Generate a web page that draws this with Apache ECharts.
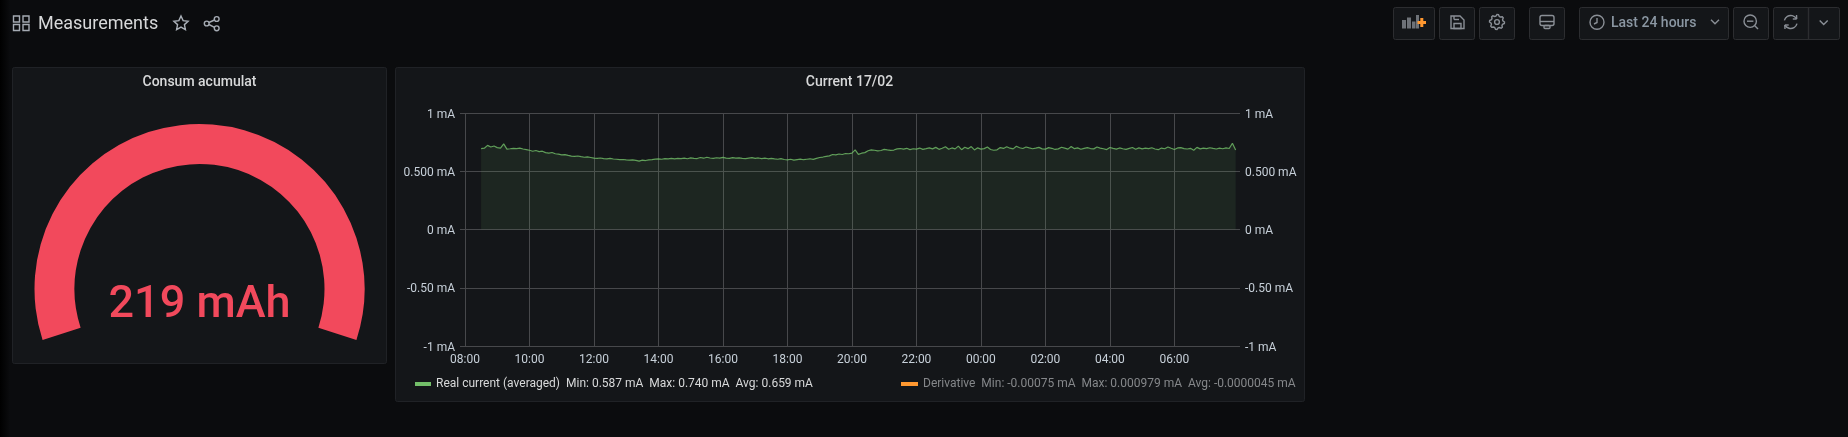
<!DOCTYPE html>
<html>
<head>
<meta charset="utf-8">
<title>Measurements</title>
<style>
  html, body { margin: 0; padding: 0; background: #0b0c0e; }
  #chart { width: 1848px; height: 437px; }
</style>
<script src="https://cdn.jsdelivr.net/npm/echarts@6/dist/echarts.min.js"></script>
</head>
<body>
<div id="chart"></div>
<script>
// Gauge
var gaugeName = 'Consum acumulat';
var gaugeValue = 219;

// Graph: one reading every 6 minutes, first one at 08:30
var graphName = 'Current 17/02';
var realName = 'Real current (averaged)';
var derivName = 'Derivative';
var realStats = 'Min: 0.587 mA  Max: 0.740 mA  Avg: 0.659 mA';
var derivStats = 'Min: -0.00075 mA  Max: 0.000979 mA  Avg: -0.0000045 mA';
var realCurrent = [
  .695,.698,.722,.708,.717,.703,.699,.735,.690,.693,.697,.695,.698,.691,.686,.680,.672,.678,.668,.672,
  .660,.655,.661,.650,.647,.640,.643,.636,.630,.628,.631,.625,.620,.624,.618,.612,.610,.614,.608,.606,
  .611,.605,.603,.600,.601,.598,.596,.598,.594,.587,.596,.592,.597,.600,.604,.606,.603,.608,.606,.610,
  .606,.611,.608,.613,.607,.615,.610,.609,.618,.612,.620,.614,.610,.616,.612,.619,.613,.610,.617,.612,
  .615,.611,.608,.613,.617,.611,.614,.609,.612,.607,.610,.606,.603,.608,.601,.598,.603,.596,.600,.604,
  .599,.603,.607,.602,.610,.618,.622,.628,.632,.644,.640,.648,.644,.652,.650,.656,.684,.645,.655,.660,
  .676,.684,.680,.675,.678,.688,.683,.679,.682,.692,.695,.690,.697,.686,.693,.690,.699,.688,.694,.701,
  .692,.705,.688,.697,.710,.689,.700,.692,.716,.685,.706,.694,.712,.683,.701,.690,.694,.708,.687,.680,
  .684,.703,.696,.711,.698,.692,.714,.702,.695,.708,.700,.693,.698,.705,.692,.690,.703,.697,.687,.692,
  .706,.698,.690,.712,.694,.701,.689,.697,.703,.695,.692,.708,.699,.693,.686,.704,.696,.690,.700,.693,
  .688,.696,.704,.689,.701,.692,.698,.694,.702,.691,.685,.699,.693,.708,.697,.687,.700,.703,.694,.691,
  .697,.680,.705,.692,.699,.694,.702,.696,.691,.698,.693,.700,.695,.740,.682
];
var derivative = [];  // series is switched off in the dashboard, only its legend shows

var xTicks = ['08:00','10:00','12:00','14:00','16:00','18:00','20:00','22:00','00:00','02:00','04:00','06:00'];
var yTicks = { '1': '1 mA', '0.5': '0.500 mA', '0': '0 mA', '-0.5': '-0.50 mA', '-1': '-1 mA' };

var RED = '#F2495C', GREEN = '#73BF69', ORANGE = '#FF9830';
var GRID = '#47484b', TEXT = '#d8d9da', LABEL = '#c7d0d9', ICON = '#8a8f96';
var FONT = 'Roboto';

// x axis is hours after 08:00
var realData = realCurrent.map(function (v, i) { return [0.5 + i * 0.1, v]; });

var chart = echarts.init(document.getElementById('chart'));

function panel(x, y, w, h) {
  return { type: 'rect', shape: { x: x, y: y, width: w, height: h, r: 2 },
    style: { fill: '#141619', stroke: '#202226', lineWidth: 1 } };
}
function button(x, w) {
  return { type: 'rect', shape: { x: x + .5, y: 7.5, width: w, height: 32, r: 2 },
    style: { fill: '#141619', stroke: '#2c2d30', lineWidth: 1 } };
}
var stroke = { fill: 'none', stroke: ICON, lineWidth: 1.4 };
function line(x1, y1, x2, y2, col) {
  return { type: 'line', shape: { x1: x1, y1: y1, x2: x2, y2: y2 },
    style: { stroke: col || ICON, lineWidth: 1.4 } };
}
function box(x, y, w, h, r, col) {
  return { type: 'rect', shape: { x: x, y: y, width: w, height: h, r: r || 0 },
    style: { fill: 'none', stroke: col || ICON, lineWidth: 1.4 } };
}
function dot(x, y, r, col) {
  return { type: 'circle', shape: { cx: x, cy: y, r: r },
    style: { fill: 'none', stroke: col || ICON, lineWidth: 1.4 } };
}
function solid(x, y, w, h, col) {
  return { type: 'rect', shape: { x: x, y: y, width: w, height: h }, style: { fill: col } };
}
function chevron(x, y) {
  return { type: 'polyline', shape: { points: [[x - 4, y - 2], [x, y + 2], [x + 4, y - 2]] }, style: stroke };
}
function star(cx, cy, r) {
  var pts = [];
  for (var i = 0; i < 10; i++) {
    var a = -Math.PI / 2 + i * Math.PI / 5, q = i % 2 ? r * 0.48 : r;
    pts.push([cx + q * Math.cos(a), cy + q * Math.sin(a)]);
  }
  return { type: 'polygon', shape: { points: pts }, style: { fill: 'none', stroke: '#aab0b8', lineWidth: 1.4 } };
}
function gear(cx, cy, r) {
  var pts = [];
  for (var i = 0; i < 32; i++) {
    var a = i * Math.PI / 16, q = (i % 4 < 2) ? r : r * 0.8;
    pts.push([cx + q * Math.cos(a), cy + q * Math.sin(a)]);
  }
  return { type: 'polygon', shape: { points: pts }, style: stroke };
}

var HEAD = '#a5abb3';
var graphic = [
  { type: 'rect', shape: { x: 0, y: 0, width: 10, height: 437 },
    style: { fill: new echarts.graphic.LinearGradient(0, 0, 1, 0, [
      { offset: 0, color: '#000000' }, { offset: 1, color: '#0b0c0e' }]) } },
  panel(12.5, 67.5, 374, 296),
  panel(395.5, 67.5, 909, 334),

  // header left
  box(13.5, 16, 6, 6, 0, HEAD), box(23, 16, 6, 6, 0, HEAD),
  box(13.5, 24.5, 6, 6, 0, HEAD), box(23, 24.5, 6, 6, 0, HEAD),
  { type: 'text', style: { x: 38, y: 24, text: 'Measurements', fill: TEXT, font: '18px ' + FONT, textVerticalAlign: 'middle' } },
  star(181, 23.5, 7.5),
  dot(216.7, 19, 2.4, HEAD), dot(206.7, 23.5, 2.4, HEAD), dot(216.7, 28.3, 2.4, HEAD),
  line(208.9, 22.5, 214.5, 20, HEAD), line(208.9, 24.5, 214.5, 27.3, HEAD),

  // toolbar
  button(1393, 41), button(1439, 35), button(1479, 35), button(1529, 35),
  button(1579, 149), button(1733, 35), button(1773, 66),
  line(1808.5, 8, 1808.5, 39, '#2c2d30'),

  solid(1402, 20, 4, 8.5, '#6e7278'), solid(1407, 17.5, 4, 11, '#6e7278'),
  solid(1412, 21.5, 3.5, 7, '#6e7278'), solid(1416, 15, 3, 13.5, '#6e7278'),
  solid(1417.5, 21, 8.5, 3, ORANGE), solid(1420.3, 18, 3, 9, ORANGE),

  { type: 'polygon', shape: { points: [[1451, 16], [1460, 16], [1464, 20], [1464, 28.5], [1451, 28.5]] }, style: stroke },
  box(1454, 23.5, 7, 5), line(1454, 16, 1454, 19.5), line(1454, 19.5, 1459, 19.5),

  gear(1497, 22, 7.5), dot(1497, 22, 2.4),

  box(1540, 15.5, 14, 10, 2), line(1540, 21.5, 1554, 21.5), box(1544, 25.5, 6, 3, 1),

  dot(1597, 22.3, 7), { type: 'polyline', shape: { points: [[1597, 18], [1597, 22.5], [1594, 24]] }, style: stroke },
  { type: 'text', style: { x: 1611, y: 23, text: 'Last 24 hours', fill: '#8b97a3', font: '500 14px ' + FONT, textVerticalAlign: 'middle' } },
  chevron(1715, 21.7),

  dot(1750.2, 21.2, 6.2), line(1747, 21.2, 1753.4, 21.2), line(1754.8, 25.8, 1758, 29),

  { type: 'arc', shape: { cx: 1790.7, cy: 22, r: 6.5, startAngle: -2.9, endAngle: -0.5 }, style: stroke },
  { type: 'arc', shape: { cx: 1790.7, cy: 22, r: 6.5, startAngle: 0.25, endAngle: 2.65 }, style: stroke },
  line(1796.5, 15, 1796.7, 19), line(1796.7, 19, 1792.8, 19),
  line(1785, 29, 1784.8, 25), line(1784.8, 25, 1788.7, 25),
  chevron(1823.7, 22.5)
];

var option = {
  animation: false,
  backgroundColor: '#0b0c0e',
  textStyle: { fontFamily: FONT },
  graphic: graphic,
  title: [
    { text: gaugeName, left: 199.5, top: 75, textAlign: 'center', padding: 0,
      textStyle: { color: TEXT, fontSize: 14, fontWeight: 500, fontFamily: FONT } },
    { text: graphName, left: 849.5, top: 75, textAlign: 'center', padding: 0,
      textStyle: { color: TEXT, fontSize: 14, fontWeight: 500, fontFamily: FONT } }
  ],
  legend: [
    { data: [realName], left: 415, top: 378, padding: 0, icon: 'rect', itemWidth: 16, itemHeight: 4,
      selectedMode: false, formatter: function (n) { return n + '  ' + realStats; },
      textStyle: { color: TEXT, fontSize: 12, fontFamily: FONT } },
    { data: [derivName], left: 901, top: 378, padding: 0, icon: 'rect', itemWidth: 17, itemHeight: 4,
      selectedMode: false, formatter: function (n) { return n + '  ' + derivStats; },
      textStyle: { color: '#85878a', fontSize: 12, fontFamily: FONT } }
  ],
  grid: { left: 465, width: 770, top: 113, height: 233 },
  xAxis: {
    type: 'value', min: 0, max: 23.88, interval: 2,
    axisLine: { show: false }, axisTick: { show: false },
    splitLine: { show: true, showMaxLine: false, lineStyle: { color: GRID, width: 1 } },
    axisLabel: { color: LABEL, fontSize: 12, fontFamily: FONT, margin: 8, showMaxLabel: false,
      formatter: function (v) { return xTicks[v / 2] || ''; } }
  },
  yAxis: [0, 1].map(function (i) {
    return {
      type: 'value', min: -1, max: 1, interval: 0.5, position: i ? 'right' : 'left',
      axisLine: { show: false },
      axisTick: { show: true, length: 5, lineStyle: { color: GRID } },
      splitLine: { show: i === 0, lineStyle: { color: GRID, width: 1 } },
      axisLabel: { margin: 10,
        formatter: function (v) { return '{t|' + yTicks[String(v)] + '}'; },
        rich: { t: { color: LABEL, fontSize: 12, fontFamily: FONT, padding: [3, 0, 0, 0] } } }
    };
  }),
  series: [
    {
      type: 'gauge', name: gaugeName, center: [199.5, 289], radius: 165,
      startAngle: 198, endAngle: -18, min: 0, max: gaugeValue,
      axisLine: { lineStyle: { width: 40, color: [[1, RED]] } },
      progress: { show: false }, pointer: { show: false }, anchor: { show: false },
      axisTick: { show: false }, splitLine: { show: false }, axisLabel: { show: false },
      title: { show: false },
      detail: { formatter: '{value} mAh', offsetCenter: [0, 17], color: RED, fontSize: 45,
        fontWeight: 500, fontFamily: FONT, valueAnimation: false },
      data: [{ value: gaugeValue }]
    },
    {
      type: 'line', name: realName, data: realData, showSymbol: false, smooth: false,
      itemStyle: { color: GREEN }, lineStyle: { color: GREEN, width: 1.2, opacity: 0.8 },
      areaStyle: { color: GREEN, opacity: 0.1 }
    },
    {
      type: 'line', name: derivName, yAxisIndex: 1, data: derivative, showSymbol: false,
      itemStyle: { color: ORANGE }, lineStyle: { color: ORANGE, width: 1 }
    }
  ]
};

chart.setOption(option);
</script>
</body>
</html>
